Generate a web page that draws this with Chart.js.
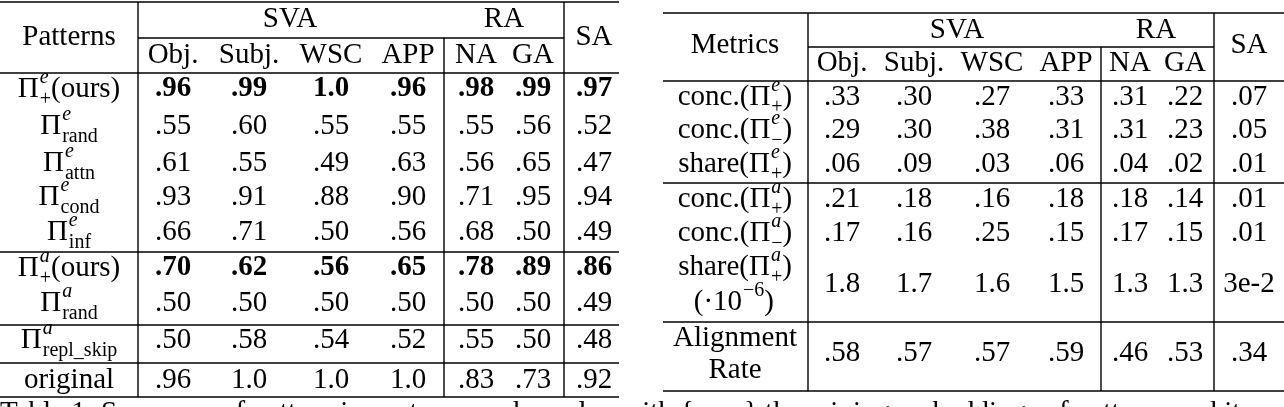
<!DOCTYPE html>
<html><head><meta charset="utf-8">
<script src="https://cdn.jsdelivr.net/npm/chart.js@4"></script>
<style>html,body{margin:0;padding:0;background:#fff}#w{width:1284px;height:407px}</style>
</head><body><div id="w"><canvas id="c"></canvas></div>
<script>
// ---- data ----
const groups = ['SVA','RA','SA'];
const subCols = ['Obj.','Subj.','WSC','APP','NA','GA'];
const leftRowLabels = [
  [{t:'Π',sup:'e',sub:'+'},{t:'(ours)'}],
  [{t:'Π',sup:'e',sub:'rand'}],
  [{t:'Π',sup:'e',sub:'attn'}],
  [{t:'Π',sup:'e',sub:'cond'}],
  [{t:'Π',sup:'e',sub:'inf'}],
  [{t:'Π',sup:'a',sub:'+'},{t:'(ours)'}],
  [{t:'Π',sup:'a',sub:'rand'}],
  [{t:'Π',sup:'a',sub:'repl_skip'}],
  [{t:'original'}]
];
const leftValues = [
  ['.96','.99','1.0','.96','.98','.99','.97'],
  ['.55','.60','.55','.55','.55','.56','.52'],
  ['.61','.55','.49','.63','.56','.65','.47'],
  ['.93','.91','.88','.90','.71','.95','.94'],
  ['.66','.71','.50','.56','.68','.50','.49'],
  ['.70','.62','.56','.65','.78','.89','.86'],
  ['.50','.50','.50','.50','.50','.50','.49'],
  ['.50','.58','.54','.52','.55','.50','.48'],
  ['.96','1.0','1.0','1.0','.83','.73','.92']
];
const leftBoldRows = [0,5];
const rightRowLabels = [
  [[{t:'conc.(Π',sup:'e',sub:'+'},{t:')'}]],
  [[{t:'conc.(Π',sup:'e',sub:'−'},{t:')'}]],
  [[{t:'share(Π',sup:'e',sub:'+'},{t:')'}]],
  [[{t:'conc.(Π',sup:'a',sub:'+'},{t:')'}]],
  [[{t:'conc.(Π',sup:'a',sub:'−'},{t:')'}]],
  [[{t:'share(Π',sup:'a',sub:'+'},{t:')'}],[{t:'(·10',sup:'−6'},{t:')'}]],
  [[{t:'Alignment'}],[{t:'Rate'}]]
];
const rightValues = [
  ['.33','.30','.27','.33','.31','.22','.07'],
  ['.29','.30','.38','.31','.31','.23','.05'],
  ['.06','.09','.03','.06','.04','.02','.01'],
  ['.21','.18','.16','.18','.18','.14','.01'],
  ['.17','.16','.25','.15','.17','.15','.01'],
  ['1.8','1.7','1.6','1.5','1.3','1.3','3e-2'],
  ['.58','.57','.57','.59','.46','.53','.34']
];
const caption = 'Table 1: Summary of pattern importance and overlap with {ours} the mixing embeddings of patterns and its';

// ---- layout ----
const F = '"Liberation Serif", serif';
const L = {
  colX:[173,249,331,408,476,533,594], labelX:69, rowY:[89,126,163,197,232,268,303,340,380],
  hLines:[[0,619,2],[138,564,38],[0,619,73],[0,619,252],[0,619,325],[0,619,363],[0,619,397]],
  vLines:[[138,2,397],[444,38,397],[564,2,397]],
  head:{title:'Patterns',titleY:37,sva:290,ra:504,sa:594,gy:19,sy:55}
};
const R = {
  colX:[842,914,992,1066,1130,1185,1249], labelX:735, rowY:[97,130,164,199,233,[267,302,284],[338,370,353]],
  hLines:[[663,1284,13],[808,1214,47],[663,1284,81],[663,1284,183],[663,1284,322],[663,1284,391]],
  vLines:[[808,13,391],[1101,47,391],[1214,13,391]],
  head:{title:'Metrics',titleY:45,sva:957,ra:1156,sa:1249,gy:30,sy:63}
};

function segW(ctx,segs){let w=0;for(const s of segs){ctx.font='29px '+F;w+=ctx.measureText(s.t).width;
  let sw=0;ctx.font='italic 20px '+F;if(s.sup)sw=ctx.measureText(s.sup).width;ctx.font='20px '+F;if(s.sub)sw=Math.max(sw,ctx.measureText(s.sub).width);w+=sw+(sw?1:0);}return w;}
function drawSegs(ctx,segs,cx,cy){let x=cx-segW(ctx,segs)/2;ctx.textAlign='left';ctx.textBaseline='middle';
  for(const s of segs){ctx.font='29px '+F;ctx.fillText(s.t,x,cy);x+=ctx.measureText(s.t).width;let sw=0;
    if(s.sup){ctx.font=(/^[a-z]$/.test(s.sup)?'italic ':'')+'20px '+F;ctx.fillText(s.sup,x+1,cy-11);sw=ctx.measureText(s.sup).width;}
    if(s.sub){ctx.font='20px '+F;ctx.fillText(s.sub,x+1,cy+11);sw=Math.max(sw,ctx.measureText(s.sub).width);}
    x+=sw+(sw?1:0);}}

const tablePlugin={id:'tbl',afterDraw(chart){
  const ctx=chart.ctx,sx=chart.scales.x,sy=chart.scales.y;const X=v=>sx.getPixelForValue(v),Y=v=>sy.getPixelForValue(v);
  ctx.save();ctx.fillStyle='#000';ctx.strokeStyle='#000';ctx.lineWidth=1.4;
  function table(T,labels,values,bold,multi){
    for(const h of T.hLines){ctx.beginPath();ctx.moveTo(X(h[0]),Y(h[2]));ctx.lineTo(X(h[1]),Y(h[2]));ctx.stroke();}
    for(const v of T.vLines){ctx.beginPath();ctx.moveTo(X(v[0]),Y(v[1]));ctx.lineTo(X(v[0]),Y(v[2]));ctx.stroke();}
    ctx.textAlign='center';ctx.textBaseline='middle';ctx.font='29px '+F;
    ctx.fillText(T.head.title,X(T.labelX),Y(T.head.titleY));
    ctx.fillText(groups[0],X(T.head.sva),Y(T.head.gy));ctx.fillText(groups[1],X(T.head.ra),Y(T.head.gy));
    ctx.fillText(groups[2],X(T.head.sa),Y(T.head.titleY));
    subCols.forEach((c,i)=>ctx.fillText(c,X(T.colX[i]),Y(T.head.sy)));
    values.forEach((row,r)=>{const ry=T.rowY[r];const cy=Array.isArray(ry)?ry[2]:ry;
      ctx.textAlign='center';ctx.textBaseline='middle';ctx.font=(bold.includes(r)?'bold ':'')+'29px '+F;
      row.forEach((v,i)=>ctx.fillText(v,X(T.colX[i]),Y(cy)));
      const lab=labels[r];
      if(multi){lab.forEach((line,k)=>drawSegs(ctx,line,X(T.labelX),Y(Array.isArray(ry)?ry[k]:ry)));}
      else drawSegs(ctx,lab,X(T.labelX),Y(cy));});
  }
  table(L,leftRowLabels,leftValues,leftBoldRows,false);
  table(R,rightRowLabels,rightValues,[],true);
  ctx.font='29px '+F;ctx.textAlign='left';ctx.textBaseline='alphabetic';ctx.fillText(caption,X(0),Y(421));
  ctx.restore();}};

new Chart(document.getElementById('c'),{type:'scatter',
  data:{datasets:[{data:[],pointRadius:0}]},
  options:{responsive:true,maintainAspectRatio:false,animation:false,layout:{padding:0},
    plugins:{legend:{display:false},tooltip:{enabled:false}},
    scales:{x:{type:'linear',min:0,max:1284,display:false},y:{type:'linear',min:0,max:407,reverse:true,display:false}}},
  plugins:[tablePlugin]});
</script></body></html>
